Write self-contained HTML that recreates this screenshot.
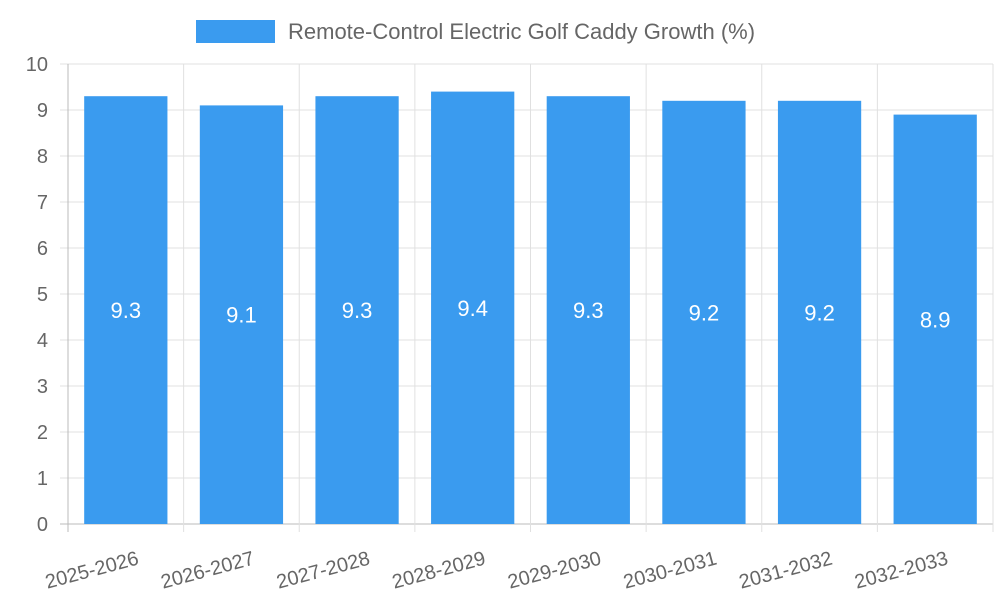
<!DOCTYPE html>
<html><head><meta charset="utf-8"><style>
body{margin:0;background:#fff;font-family:"Liberation Sans",sans-serif}
</style></head><body>
<svg width="1000" height="600" xmlns="http://www.w3.org/2000/svg">
<g>
<rect x="196" y="20" width="79" height="23" fill="#3a9bef"/>
<text x="288" y="39" font-size="22" fill="#666">Remote-Control Electric Golf Caddy Growth (%)</text>
</g>
<g id="grid"></g><g id="bars"></g><g id="labels"></g>
</svg>
<script>
const categories=["2025-2026","2026-2027","2027-2028","2028-2029","2029-2030","2030-2031","2031-2032","2032-2033"];
const values=[9.3,9.1,9.3,9.4,9.3,9.2,9.2,8.9];
const yTicks=[0,1,2,3,4,5,6,7,8,9,10];
const L=68,R=993,T=64,B=524,yMax=10;
const step=(R-L)/categories.length;
const y=v=>B-(v/yMax)*(B-T);
const x=i=>L+i*step;
const ns="http://www.w3.org/2000/svg";
function mk(p,tag,a,txt){const e=document.createElementNS(ns,tag);for(const k in a)e.setAttribute(k,a[k]);if(txt!==undefined)e.textContent=txt;p.appendChild(e);return e;}
const g=document.getElementById('grid'),bg=document.getElementById('bars'),lg=document.getElementById('labels');
yTicks.forEach(t=>{
 const l=mk(g,'line',{x1:L-8,x2:R,y1:y(t),y2:y(t),stroke:t===0?'#bbb':'#e0e0e0','stroke-width':1});
 
 
 const tx=mk(g,'text',{x:L-20,y:y(t)+7,'text-anchor':'end','font-size':20,fill:'#666'},String(t));
 
 
});
for(let i=0;i<=categories.length;i++){
 const l=mk(g,'line',{x1:x(i),x2:x(i),y1:T,y2:B+8,stroke:i===0?'#bbb':'#e0e0e0','stroke-width':1});
 
 
}
categories.forEach((c,i)=>{
 const bw=step*0.72,bx=x(i)+(step-bw)/2;
 const r=mk(bg,'rect',{x:bx,y:y(values[i]),width:bw,height:B-y(values[i]),fill:'#3a9bef'});
 
 
 const v=mk(lg,'text',{x:x(i)+step/2,y:(y(values[i])+B)/2+8,'text-anchor':'middle','font-size':22,fill:'#fff'},String(values[i]));
 
 
 const cx=x(i)+step/2+14;
 const t=mk(lg,'text',{x:cx,y:B+40,'text-anchor':'end','font-size':20,fill:'#666',transform:`rotate(-15 ${cx} ${B+40})`},c);
 
 
});
</script>
</body></html>
